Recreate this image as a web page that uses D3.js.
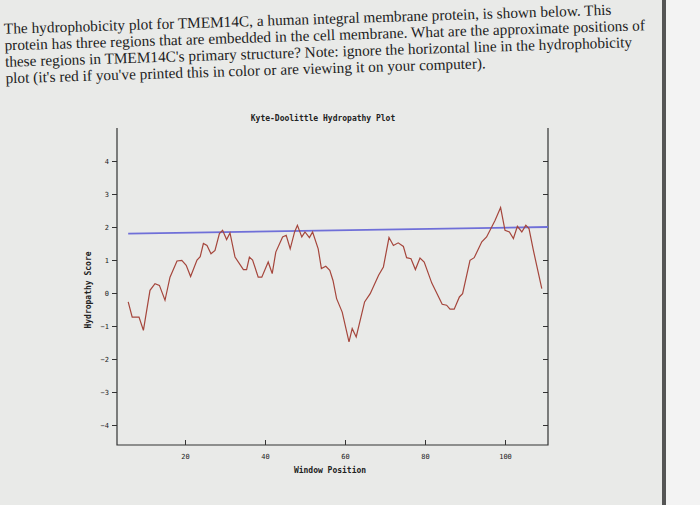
<!DOCTYPE html>
<html><head><meta charset="utf-8">
<script src="https://cdn.jsdelivr.net/npm/d3@7"></script>
<style>body{margin:0;background:#e4e5e3;}svg{display:block;}</style>
</head><body><svg id="chart" width="700" height="505"></svg>
<script>
// window positions and hydropathy scores
var windowPos = [5.8,6.8,8.5,9.6,11.25,12.5,13.6,15,16.25,18,19.2,20.3,21.4,23,23.8,24.6,25.5,26.5,27.5,28.6,29.4,30.4,31.25,32.5,34.6,35.4,36.1,36.9,38.3,39.2,40.8,41.8,42.7,44.4,45.3,46.3,47.4,48.1,49.2,50,51.1,51.9,53.3,54.1,55.2,56.2,57,57.9,59.3,61,61.8,62.8,64.9,66.3,68.4,69.6,71,72.1,73.3,74.6,75.4,76.5,77.6,78.75,79.8,81.7,84.3,85.4,86.25,87.3,88.6,89.4,91.25,92.3,94.2,95.4,97.5,98.9,100,101.1,102.1,103.1,104.2,105.2,106,107.1,109.2];
var scores = [-0.27,-0.73,-0.73,-1.13,0.08,0.28,0.23,-0.22,0.48,0.97,0.99,0.84,0.5,1.0,1.1,1.5,1.44,1.19,1.29,1.8,1.9,1.62,1.82,1.09,0.71,0.71,1.09,1.0,0.48,0.48,0.94,0.59,1.24,1.7,1.75,1.34,1.85,2.05,1.7,1.85,1.68,1.85,1.34,0.74,0.81,0.69,0.38,-0.17,-0.58,-1.48,-1.08,-1.33,-0.27,-0.02,0.54,0.79,1.68,1.44,1.52,1.41,1.07,1.04,0.71,1.06,0.94,0.3,-0.34,-0.37,-0.49,-0.49,-0.12,-0.02,0.99,1.07,1.55,1.7,2.2,2.59,1.9,1.85,1.65,2.02,1.85,2.05,1.95,1.29,0.13];
var yTicks = [-4,-3,-2,-1,0,1,2,3,4];
var xTicks = [20,40,60,80,100];
var cutoff = {x: [5.8, 110.75], y: [1.8, 2.0]};
var paragraph = [
  "The hydrophobicity plot for TMEM14C, a human integral membrane protein, is shown below.  This",
  "protein has three regions that are embedded in the cell membrane.  What are the approximate positions of",
  "these regions in TMEM14C's primary structure?  Note:  ignore the horizontal line in the hydrophobicity",
  "plot (it's red if you've printed this in color or are viewing it on your computer)."
];

var svg = d3.select('#chart');
// paper-ish backdrop and the dark screen edge on the right
svg.append('rect').attr('width',665).attr('height',505).attr('fill','#e9eae8');
svg.append('rect').attr('x',665).attr('width',35).attr('height',505).attr('fill','#f3f3f3');
svg.append('rect').attr('x',662).attr('width',4).attr('height',505).attr('fill','#555');

var txt = svg.append('g').attr('transform','rotate(-1.8 0 30)')
  .attr('font-family','Liberation Serif').attr('font-size',15.3).attr('fill','#1c1c1c')
  .style('white-space','pre');
paragraph.forEach(function(l,i){
  txt.append('text').attr('x',4).attr('y',34 + i*16.5).text(l);
});

var x = d3.scaleLinear().domain([3,110.75]).range([117,548]);
var y = d3.scaleLinear().domain([0,1]).range([293,260]);

var mono = 'DejaVu Sans Mono';
svg.append('text').attr('x',323).attr('y',121).attr('text-anchor','middle')
  .attr('font-family',mono).attr('font-size',8).attr('font-weight','bold').attr('fill','#222')
  .text('Kyte-Doolittle Hydropathy Plot');

var yAx = svg.append('g').attr('transform','translate(117,0)')
  .call(d3.axisLeft(y).tickValues(yTicks).tickSize(5).tickFormat(d3.format('d')));
var yAxR = svg.append('g').attr('transform','translate(548,0)')
  .call(d3.axisLeft(y).tickValues(yTicks).tickSize(5).tickFormat(''));
var xAx = svg.append('g').attr('transform','translate(0,445)')
  .call(d3.axisTop(x).tickValues(xTicks).tickSize(5).tickFormat(d3.format('d')));
xAx.selectAll('text').attr('transform','translate(0,22)');
[yAx,yAxR,xAx].forEach(function(g){
  g.select('.domain').remove();
  g.selectAll('line').attr('stroke','#333');
  g.selectAll('text').attr('font-family',mono).attr('font-size',7).attr('fill','#222');
});
svg.append('path').attr('fill','none').attr('stroke','#333').attr('stroke-width',1.2)
  .attr('d','M117,128V445H548V128');

svg.append('text').attr('x',330).attr('y',473).attr('text-anchor','middle')
  .attr('font-family',mono).attr('font-size',8).attr('font-weight','bold').attr('fill','#222')
  .text('Window Position');
svg.append('text').attr('transform','translate(91,290) rotate(-90)').attr('text-anchor','middle')
  .attr('font-family',mono).attr('font-size',8).attr('font-weight','bold').attr('fill','#222')
  .text('Hydropathy Score');

svg.append('line').attr('x1',x(cutoff.x[0])).attr('x2',x(cutoff.x[1]))
  .attr('y1',y(cutoff.y[0])).attr('y2',y(cutoff.y[1]))
  .attr('stroke','#6f6fd8').attr('stroke-width',1.8);

var pts = windowPos.map(function(w,i){return [w,scores[i]];});
svg.append('path').datum(pts).attr('fill','none').attr('stroke','#a5463c').attr('stroke-width',1.2)
  .attr('d', d3.line().x(function(d){return x(d[0]);}).y(function(d){return y(d[1]);}));
</script></body></html>
